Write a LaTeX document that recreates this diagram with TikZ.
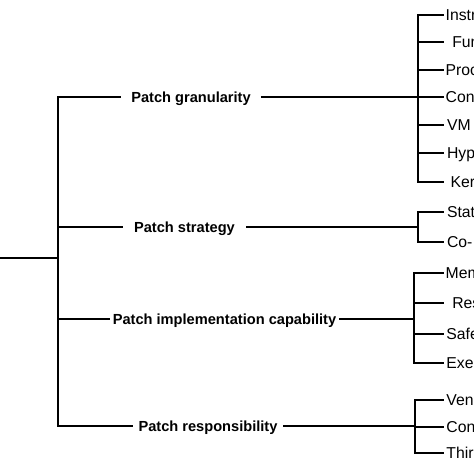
\documentclass[tikz,border=0pt]{standalone}
\usepackage{fontspec}
\setmainfont{Liberation Sans}
\begin{document}
\begin{tikzpicture}[x=0.025cm, y=-0.025cm,
        bar/.style={line width=2pt},
        branch/.style={font=\fontsize{10.4}{12}\selectfont\bfseries, inner ysep=0pt, text height=9.3pt, text depth=1.9pt},
        leaf/.style={anchor=west, font=\fontsize{11.2}{13}\selectfont, inner xsep=1pt, inner ysep=0pt, text height=9.9pt, text depth=2pt}]
        % Fix the frame (474 x 474 pixels)
        \useasboundingbox (0,0) rectangle (474,474);

        % Root line into the main fork
        \coordinate (root) at (0,258);
        \coordinate (hub) at (58,258);
        \draw[bar] (root) -- (hub);

        % Second level: the four branches
        \node[branch, inner xsep=7pt] (gran) at (191,97) {Patch granularity};
        \node[branch, inner xsep=8pt] (strat) at (184.5,227) {Patch strategy};
        \node[branch, inner xsep=2pt] (impl) at (224.5,319) {Patch implementation capability};
        \node[branch, inner xsep=4pt] (resp) at (208,426) {Patch responsibility};
        \draw[bar] (hub) |- (gran.west);
        \draw[bar] (hub) |- (strat.west);
        \draw[bar] (hub) |- (impl.west);
        \draw[bar] (hub) |- (resp.west);

        % Forks of the third level
        \coordinate (granhub) at (418,97);
        \coordinate (strathub) at (418,227);
        \coordinate (implhub) at (414,319);
        \coordinate (resphub) at (415,426);
        \draw[bar] (gran.east) -- (granhub);
        \draw[bar] (strat.east) -- (strathub);
        \draw[bar] (impl.east) -- (implhub);
        \draw[bar] (resp.east) -- (resphub);

        % Leaves of patch granularity
        \node[leaf] (instr) at (444,15) {Instr};
        \node[leaf, inner xsep=5.7pt] (func) at (444,42) {Fun};
        \node[leaf] (proc) at (444,70) {Proc};
        \node[leaf] (cont) at (444,97) {Con};
        \node[leaf, inner xsep=2pt] (vm) at (444,125) {VM};
        \node[leaf, inner xsep=2pt] (hyp) at (444,153) {Hyp};
        \node[leaf, inner xsep=4.5pt] (kern) at (444,182) {Ker};
        \draw[bar] (granhub) |- (instr.west);
        \draw[bar] (granhub) |- (func.west);
        \draw[bar] (granhub) |- (proc.west);
        \draw[bar] (granhub) -- (cont.west);
        \draw[bar] (granhub) |- (vm.west);
        \draw[bar] (granhub) |- (hyp.west);
        \draw[bar] (granhub) |- (kern.west);

        % Leaves of patch strategy
        \node[leaf, inner xsep=2pt] (stat) at (444,212) {Stat};
        \node[leaf, inner xsep=2pt] (cop) at (444,242) {Co-};
        \draw[bar] (strathub) |- (stat.west);
        \draw[bar] (strathub) |- (cop.west);

        % Leaves of patch implementation capability
        \node[leaf] (mem) at (444,273) {Mem};
        \node[leaf, inner xsep=5.7pt] (res) at (444,303) {Res};
        \node[leaf, inner xsep=1.5pt] (safe) at (444,334) {Safe};
        \node[leaf, inner xsep=1.5pt] (exe) at (444,363) {Exe};
        \draw[bar] (implhub) |- (mem.west);
        \draw[bar] (implhub) |- (res.west);
        \draw[bar] (implhub) |- (safe.west);
        \draw[bar] (implhub) |- (exe.west);

        % Leaves of patch responsibility
        \node[leaf, inner xsep=1.5pt] (ven) at (444,400) {Ven};
        \node[leaf, inner xsep=1.5pt] (com) at (444,427) {Con};
        \node[leaf, inner xsep=1.5pt] (thir) at (444,453) {Thir};
        \draw[bar] (resphub) |- (ven.west);
        \draw[bar] (resphub) |- (com.west);
        \draw[bar] (resphub) |- (thir.west);
    \end{tikzpicture}
\end{document}
